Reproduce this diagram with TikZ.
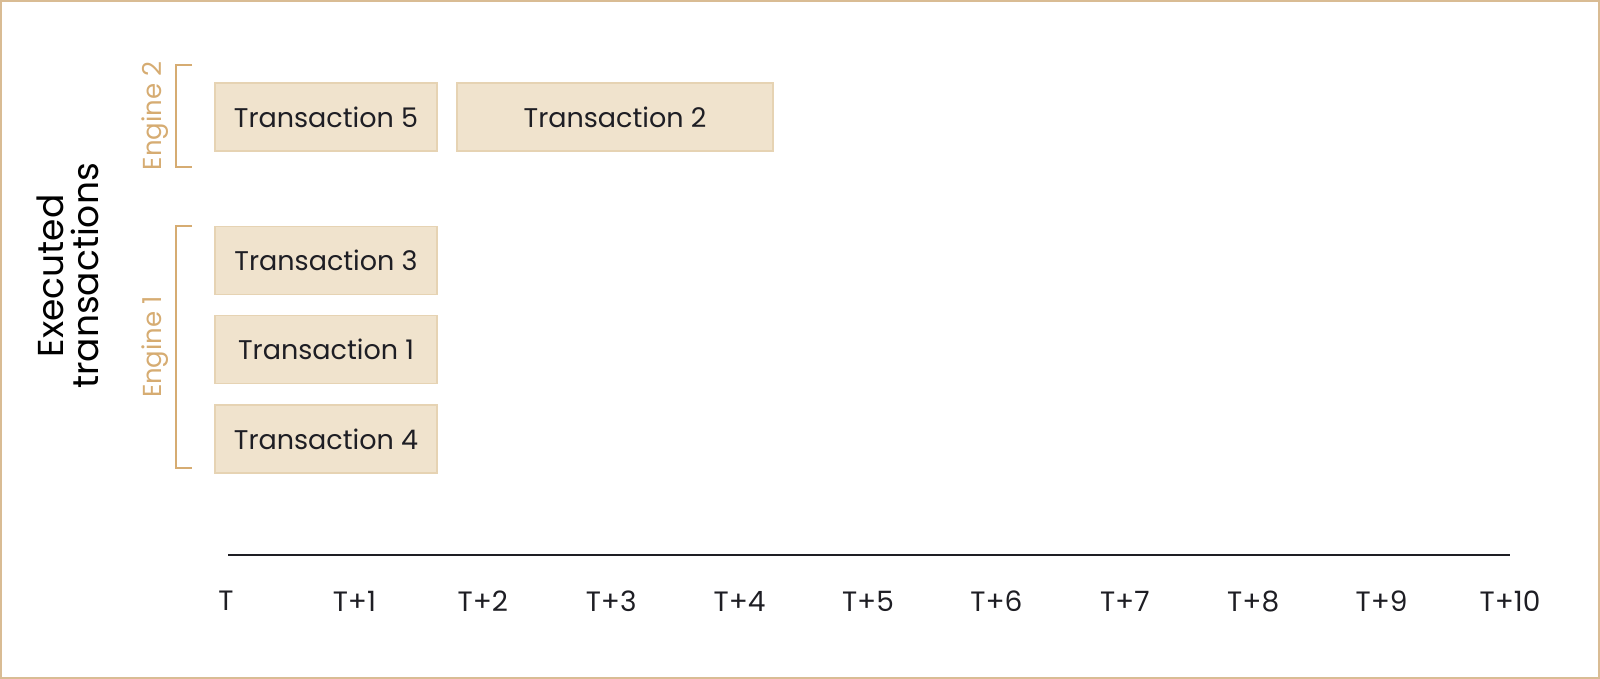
\documentclass[tikz,border=0pt]{standalone}
\usepackage{fontspec}
\setmainfont{Poppins}
\usetikzlibrary{positioning}
\definecolor{boxfill}{HTML}{F0E3CD}
\definecolor{boxline}{HTML}{E6D3B3}
\definecolor{tan}{HTML}{D6AC72}
\definecolor{framec}{HTML}{D9BC94}
\definecolor{ink}{HTML}{1E1E24}
\tikzset{
    txbox/.style = {rectangle, draw=boxline, fill=boxfill, line width=0.6pt, minimum height=34pt, inner sep=0pt, text=ink, font=\fontsize{13.5}{16}\selectfont},
    bracket/.style = {draw=tan, line width=1pt},
    engine/.style = {rotate=90, text=tan, font=\fontsize{13}{15}\selectfont},
    tick/.style = {text=ink, font=\fontsize{14}{16}\selectfont},
    axis/.style = {draw=ink, line width=1pt},
    ylab/.style = {rotate=90, align=center, text=black, font=\fontsize{18}{17.5}\selectfont}
}

\begin{document}
\begin{tikzpicture}[x=0.5pt,y=-0.5pt]
\useasboundingbox (0,0) rectangle (1600,679);
\draw[framec, line width=1pt] (1,1) rectangle (1599,678);
%
\node[ylab] at (68,276) (yl) {Executed\\transactions};
\node[engine] at (155,116) (e2) {Engine 2};
\node[engine] at (155,347) (e1) {Engine 1};
\draw[bracket] (192,65) -- (176,65) -- (176,167) -- (192,167);
\draw[bracket] (192,226) -- (176,226) -- (176,468) -- (192,468);
%
\node[txbox, minimum width=111pt] at (326,117) (t5) {Transaction 5};
\node[txbox, minimum width=158pt] at (615,117) (t2) {Transaction 2};
\node[txbox, minimum width=111pt] at (326,260.5) (t3) {Transaction 3};
\node[txbox, minimum width=111pt, below=10pt of t3] (t1) {Transaction 1};
\node[txbox, minimum width=111pt, below=10pt of t1] (t4) {Transaction 4};
%
\coordinate (a0) at (228,555);
\coordinate (a10) at (1510,555);
\draw[axis] (a0) -- (a10);
\foreach \i in {0,...,10} {
  \pgfmathsetmacro\xx{226+128.4*\i}
  \node[tick] at (\xx,601) (tk\i) {\ifnum\i=0 T\else T+\i\fi};
}
\end{tikzpicture}
\end{document}
